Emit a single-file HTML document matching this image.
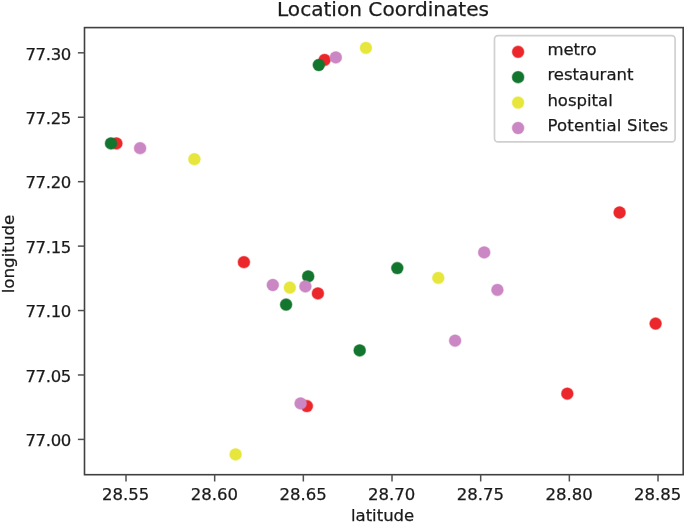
<!DOCTYPE html>
<html><head><meta charset="utf-8"><title>Location Coordinates</title>
<style>
html,body{margin:0;padding:0;background:#fff;}
body{width:685px;height:523px;overflow:hidden;}
svg{display:block;}
text{font-family:"DejaVu Sans","Liberation Sans",sans-serif;fill:#1a1a1a;stroke:#1a1a1a;stroke-width:0.25px;}
</style></head><body>
<svg width="685" height="523" viewBox="0 0 685 523">
<rect x="0" y="0" width="685" height="523" fill="#ffffff"/>
<g>
<g id="points">
<g fill="#ec272c" stroke="#ec272c" stroke-width="1.2" stroke-opacity="0.45"><circle cx="324.6" cy="59.9" r="5.9"/><circle cx="116.4" cy="143.4" r="5.9"/><circle cx="243.9" cy="262.2" r="5.9"/><circle cx="317.9" cy="293.4" r="5.9"/><circle cx="306.9" cy="406.1" r="5.9"/><circle cx="619.6" cy="212.5" r="5.9"/><circle cx="655.6" cy="323.6" r="5.9"/><circle cx="567.3" cy="393.7" r="5.9"/></g>
<g fill="#13762f" stroke="#13762f" stroke-width="1.2" stroke-opacity="0.45"><circle cx="318.8" cy="65.0" r="5.9"/><circle cx="111.0" cy="143.4" r="5.9"/><circle cx="308.2" cy="276.4" r="5.9"/><circle cx="286.1" cy="304.6" r="5.9"/><circle cx="397.3" cy="268.1" r="5.9"/><circle cx="359.7" cy="350.4" r="5.9"/></g>
<g fill="#e6e63c" stroke="#e6e63c" stroke-width="1.2" stroke-opacity="0.45"><circle cx="365.9" cy="47.9" r="5.9"/><circle cx="194.4" cy="159.2" r="5.9"/><circle cx="289.8" cy="287.6" r="5.9"/><circle cx="438.3" cy="277.9" r="5.9"/><circle cx="235.6" cy="454.4" r="5.9"/></g>
<g fill="#cb86c4" stroke="#cb86c4" stroke-width="1.2" stroke-opacity="0.45"><circle cx="335.8" cy="57.4" r="5.9"/><circle cx="140.1" cy="148.2" r="5.9"/><circle cx="272.8" cy="285.0" r="5.9"/><circle cx="305.4" cy="286.4" r="5.9"/><circle cx="484.2" cy="252.4" r="5.9"/><circle cx="497.4" cy="289.9" r="5.9"/><circle cx="455.1" cy="340.7" r="5.9"/><circle cx="300.6" cy="403.4" r="5.9"/></g>
</g>
<rect x="84.5" y="27.6" width="598.70" height="447.10" fill="none" stroke="#404040" stroke-width="1.6"/>
<g stroke="#505050" stroke-width="1.5"><line x1="126.00" y1="474.7" x2="126.00" y2="481.50"/><line x1="214.67" y1="474.7" x2="214.67" y2="481.50"/><line x1="303.34" y1="474.7" x2="303.34" y2="481.50"/><line x1="392.01" y1="474.7" x2="392.01" y2="481.50"/><line x1="480.68" y1="474.7" x2="480.68" y2="481.50"/><line x1="569.35" y1="474.7" x2="569.35" y2="481.50"/><line x1="658.02" y1="474.7" x2="658.02" y2="481.50"/><line x1="84.5" y1="439.40" x2="77.90" y2="439.40"/><line x1="84.5" y1="374.97" x2="77.90" y2="374.97"/><line x1="84.5" y1="310.54" x2="77.90" y2="310.54"/><line x1="84.5" y1="246.11" x2="77.90" y2="246.11"/><line x1="84.5" y1="181.68" x2="77.90" y2="181.68"/><line x1="84.5" y1="117.25" x2="77.90" y2="117.25"/><line x1="84.5" y1="52.82" x2="77.90" y2="52.82"/></g>
<g font-size="16.5" text-anchor="middle"><text x="125.70" y="500">28.55</text><text x="214.37" y="500">28.60</text><text x="303.04" y="500">28.65</text><text x="391.71" y="500">28.70</text><text x="480.38" y="500">28.75</text><text x="569.05" y="500">28.80</text><text x="657.72" y="500">28.85</text></g>
<g font-size="16.5" text-anchor="end"><text x="71.3" y="446" textLength="45.9" lengthAdjust="spacing">77.00</text><text x="71.3" y="382" textLength="45.9" lengthAdjust="spacing">77.05</text><text x="71.3" y="317" textLength="45.9" lengthAdjust="spacing">77.10</text><text x="71.3" y="253" textLength="45.9" lengthAdjust="spacing">77.15</text><text x="71.3" y="188" textLength="45.9" lengthAdjust="spacing">77.20</text><text x="71.3" y="124" textLength="45.9" lengthAdjust="spacing">77.25</text><text x="71.3" y="60" textLength="45.9" lengthAdjust="spacing">77.30</text></g>
<text x="382.6" y="521" font-size="16.5" text-anchor="middle">latitude</text>
<text transform="translate(13.7,254) rotate(-90)" font-size="16.7" text-anchor="middle">longitude</text>
<text x="383" y="16" font-size="20.1" text-anchor="middle">Location Coordinates</text>
<rect x="494.5" y="35.6" width="180.6" height="106.3" rx="3.4" ry="3.4" fill="#ffffff" fill-opacity="0.8" stroke="#d0d0d0" stroke-width="1.7"/>
<circle cx="518.1" cy="51.80" r="5.9" fill="#ec272c" stroke="#ec272c" stroke-width="1.2" stroke-opacity="0.45"/><text x="547.4" y="55" font-size="16.5">metro</text>
<circle cx="518.1" cy="77.20" r="5.9" fill="#13762f" stroke="#13762f" stroke-width="1.2" stroke-opacity="0.45"/><text x="547.4" y="80" font-size="16.5">restaurant</text>
<circle cx="518.1" cy="102.60" r="5.9" fill="#e6e63c" stroke="#e6e63c" stroke-width="1.2" stroke-opacity="0.45"/><text x="547.4" y="106" font-size="16.5">hospital</text>
<circle cx="518.1" cy="128.00" r="5.9" fill="#cb86c4" stroke="#cb86c4" stroke-width="1.2" stroke-opacity="0.45"/><text x="547.4" y="131" font-size="16.5" textLength="120.7" lengthAdjust="spacing">Potential Sites</text>
</g>
</svg>
</body></html>
